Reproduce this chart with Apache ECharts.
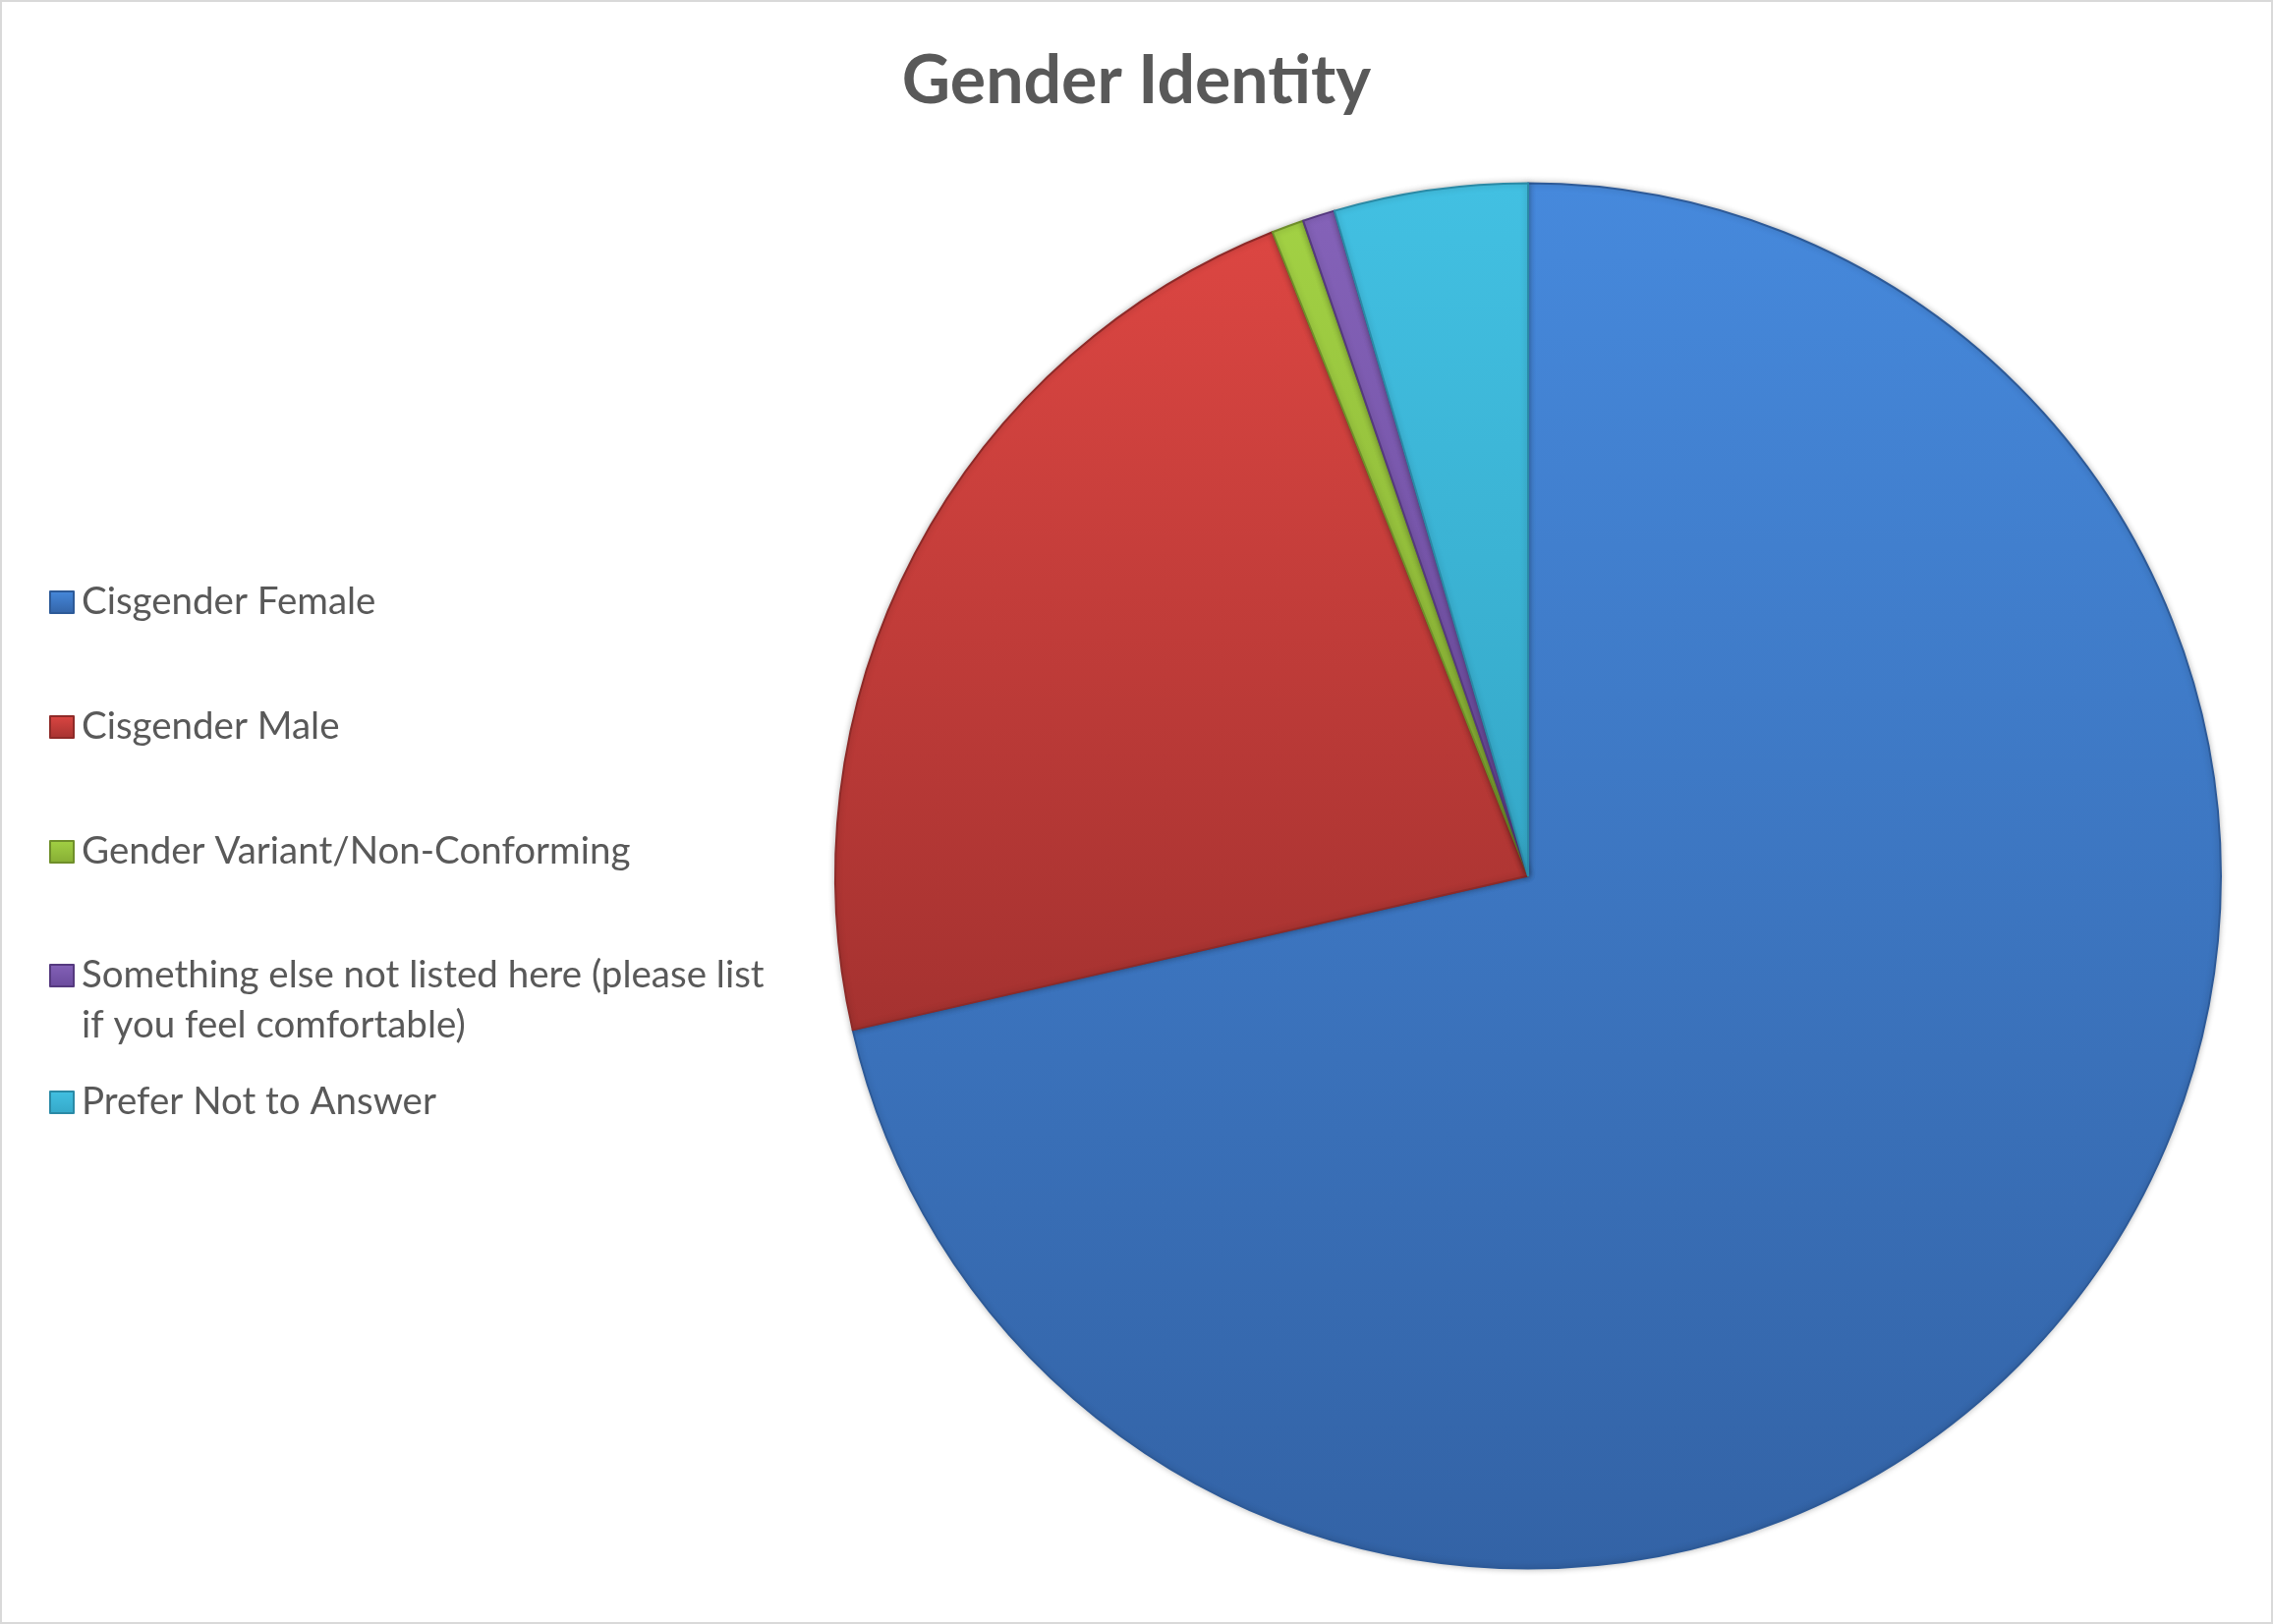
<!DOCTYPE html>
<html><head><meta charset="utf-8">
<script src="https://cdn.jsdelivr.net/npm/echarts@6/dist/echarts.min.js"></script>
<style>
html,body{margin:0;padding:0;background:#fff}
#c{width:2313px;height:1653px;position:absolute;left:0;top:0}
#b{width:2313px;height:1653px;position:absolute;left:0;top:0;box-sizing:border-box;border:2px solid #d9d9d9;pointer-events:none}
</style>
</head><body><div id="c"></div><div id="b"></div>
<script>
const titleText = 'Gender Identity';
const categories = [
  'Cisgender Female',
  'Cisgender Male',
  'Gender Variant/Non-Conforming',
  'Something else not listed here (please list if you feel comfortable)',
  'Prefer Not to Answer'
];
const values = [95, 30, 1, 1, 6];
const colorTop = ['#4689dc', '#dc4642', '#a2d144', '#8462b8', '#42c0e2'];
const colorBottom = ['#3363a6', '#a53230', '#86ad34', '#6a4a9c', '#35a8c8'];
const borderCols = ['#2d5a98', '#8e2a28', '#6f8f2a', '#55397f', '#2a8aa6'];

function grad(i) {
  return new echarts.graphic.LinearGradient(0, 0, 0, 1, [
    { offset: 0, color: colorTop[i] },
    { offset: 1, color: colorBottom[i] }
  ]);
}

const legendCenters = [613, 740, 867, 993, 1122];
const LH = 51;
const legends = categories.map((name, i) => {
  const multi = name.length > 40;
  return {
    data: [name],
    orient: 'vertical',
    left: 50,
    top: multi ? legendCenters[i] - LH * 1.5 : legendCenters[i] - LH / 2,
    padding: 0,
    itemGap: 0,
    itemWidth: 24,
    itemHeight: 22,
    icon: 'rect',
    selectedMode: false,
    formatter: multi ? function (n) {
      return '\nSomething else not listed here (please list\nif you feel comfortable)';
    } : '{name}',
    textStyle: {
      fontFamily: 'Lato',
      fontSize: 38.5,
      color: '#595959',
      lineHeight: LH,
      padding: [0, 0, 0, 3]
    }
  };
});

const chart = echarts.init(document.getElementById('c'), null, { renderer: 'canvas' });
chart.setOption({
  animation: false,
  backgroundColor: '#ffffff',
  title: {
    text: titleText,
    left: 'center',
    top: 44,
    textStyle: { fontFamily: 'Lato', fontWeight: 'bold', fontSize: 68, color: '#595959' }
  },
  legend: legends,
  series: [{
    type: 'pie',
    center: [1555, 891.5],
    radius: 705,
    startAngle: 90,
    clockwise: true,
    label: { show: false },
    labelLine: { show: false },
    emphasis: { disabled: true },
    data: categories.map((name, i) => ({
      name: name,
      value: values[i],
      itemStyle: {
        color: grad(i),
        borderColor: borderCols[i],
        borderWidth: 2,
        shadowBlur: 6,
        shadowColor: 'rgba(0,0,0,0.25)'
      }
    }))
  }]
});
</script>
</body></html>
